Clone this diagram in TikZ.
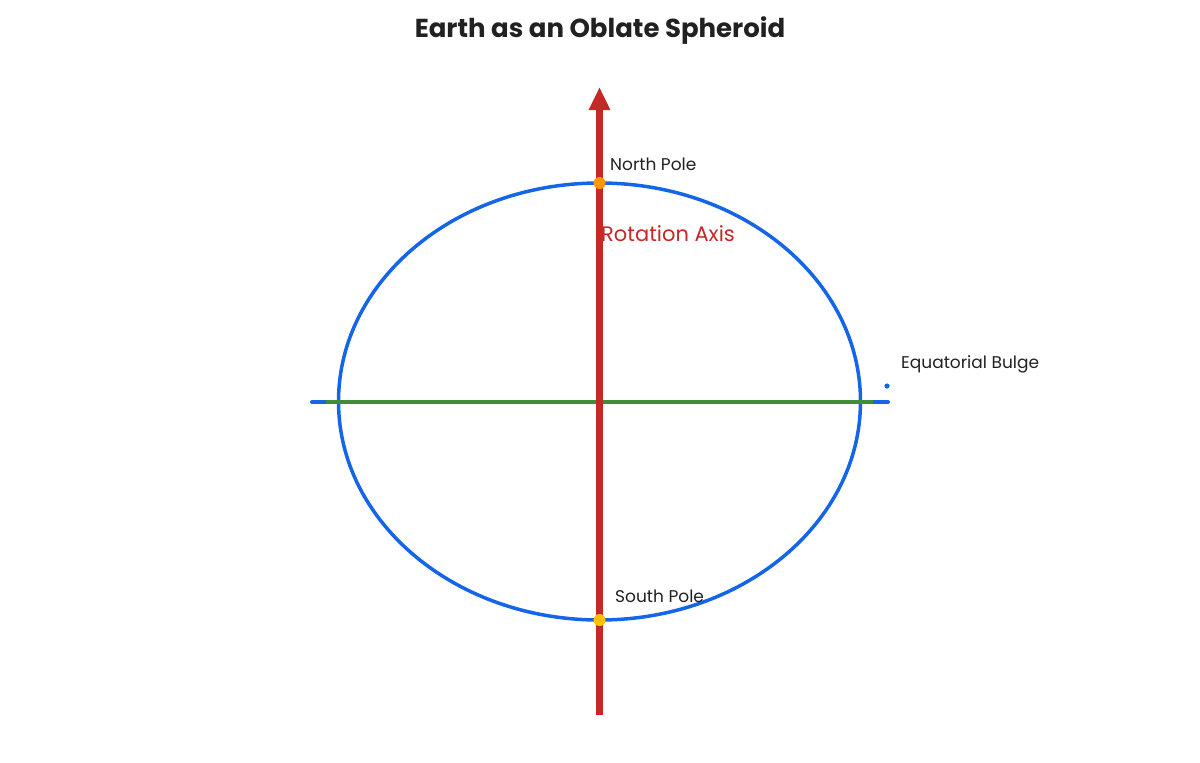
\documentclass[tikz,border=0pt]{standalone}
\usepackage{fontspec}
\setmainfont{Poppins}
\usepackage{tikz}
\usetikzlibrary{arrows.meta}
\definecolor{earthblue}{RGB}{21,101,232}
\definecolor{axisred}{RGB}{198,40,40}
\definecolor{eqgreen}{RGB}{67,140,55}
\definecolor{poleorange}{RGB}{255,152,0}
\definecolor{polegold}{RGB}{255,193,7}
\definecolor{inkgray}{RGB}{33,33,33}

\begin{document}
\begin{tikzpicture}[x=1pt, y=-1pt,
	lbl/.style={inkgray, anchor=west, inner sep=0pt, font=\fontsize{17}{20}\selectfont},
	poledot/.style={circle, inner sep=0pt, minimum size=12pt}]
	\useasboundingbox (0,0) rectangle (1200,763);
	\node[inkgray, font=\fontsize{26}{31}\selectfont\bfseries] (title) at (600,31) {Earth as an Oblate Spheroid};
	% the spheroid
	\draw[earthblue, line width=3.5pt] (599.5,401.5) ellipse (261 and 218.5);
	\coordinate (eqW) at (312,402);
	\coordinate (eqE) at (888,402);
	\coordinate (bulgeW) at (326,402);
	\coordinate (bulgeE) at (873,402);
	\draw[earthblue, line width=4pt, line cap=round] (eqW) -- (eqE);
	\draw[eqgreen, line width=4.5pt] (bulgeW) -- (bulgeE);
	% rotation axis
	\coordinate (axisS) at (599.5,715);
	\coordinate (axisN) at (599.5,87);
	\draw[axisred, line width=7pt, -{Triangle[length=23pt, width=20pt]}] (axisS) -- (axisN);
	\node[poledot, fill=poleorange] (north) at (599.5,183) {};
	\node[poledot, fill=polegold] (south) at (599.5,620) {};
	\fill[earthblue] (887,386) circle (2.6);
	\node[lbl] (northlbl) at (610,164) {North Pole};
	\node[lbl] (southlbl) at (615,596) {South Pole};
	\node[lbl] (bulgelbl) at (901,364) {Equatorial Bulge};
	\node[lbl, axisred, font=\fontsize{21}{25}\selectfont] (axislbl) at (601,234) {Rotation Axis};
\end{tikzpicture}
\end{document}
